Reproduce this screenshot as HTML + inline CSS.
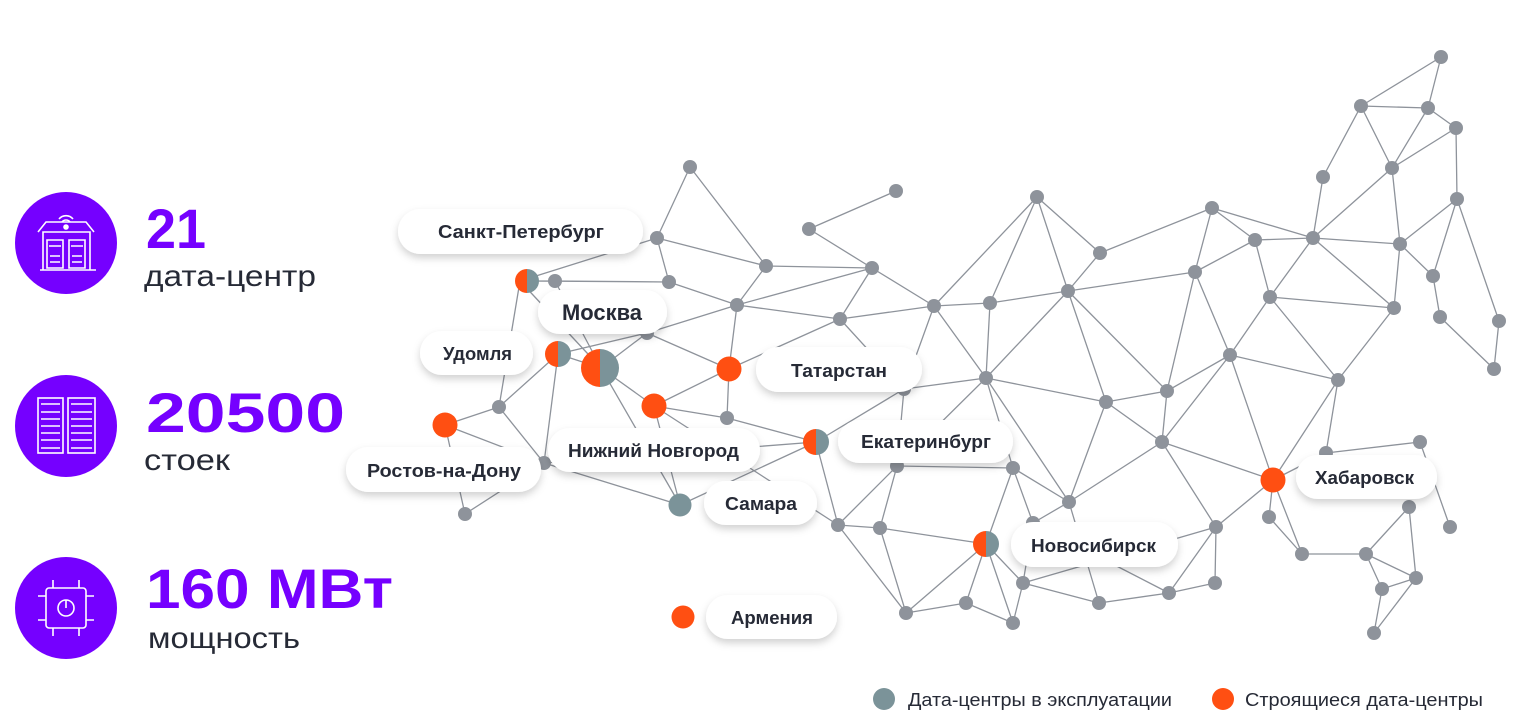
<!DOCTYPE html>
<html><head><meta charset="utf-8"><style>
html,body{margin:0;padding:0;background:#fff;width:1525px;height:728px;overflow:hidden;font-family:"Liberation Sans",sans-serif}
svg{position:absolute;left:0;top:0}
</style></head><body>
<svg width="1525" height="728" viewBox="0 0 1525 728" xmlns="http://www.w3.org/2000/svg">
<defs><filter id="sh" x="-20%" y="-40%" width="140%" height="190%"><feDropShadow dx="0" dy="4" stdDeviation="4" flood-color="#000" flood-opacity="0.18"/></filter></defs>
<g stroke="#8e939b" stroke-width="1.3" fill="none">
<path d="M690 167L657 238M690 167L766 266M896 191L809 229M809 229L872 268M657 238L766 266M657 238L669 282M657 238L520 281M766 266L872 268M766 266L737 305M669 282L737 305M872 268L737 305M872 268L840 319M872 268L934 306M737 305L840 319M737 305L647 333M737 305L729 369M840 319L934 306M840 319L729 369M840 319L904 389M669 282L555 281M520 281L555 281M520 281L669 282M520 281L499 407M520 281L601 368M555 281L601 368M647 333L601 368M647 333L558 354M647 333L729 369M558 354L499 407M558 354L601 368M558 354L544 463M601 368L654 406M601 368L680 505M729 369L654 406M729 369L727 418M654 406L727 418M654 406L680 505M654 406L838 525M727 418L816 442M499 407L445 425M499 407L544 463M445 425L544 463M445 425L465 514M544 463L465 514M544 463L680 505M816 442L544 463M816 442L680 505M816 442L838 525M816 442L904 389"/>
<path d="M904 389L934 306M904 389L986 378M904 389L897 466M934 306L990 303M934 306L986 378M934 306L1037 197M990 303L1068 291M990 303L986 378M990 303L1037 197M1068 291L1037 197M1068 291L1100 253M1037 197L1100 253M1100 253L1212 208M1068 291L986 378M1068 291L1106 402M1068 291L1167 391M1068 291L1195 272M986 378L1106 402M986 378L897 466M986 378L1013 468M986 378L1069 502M897 466L1013 468M897 466L838 525M897 466L880 528M1013 468L986 544M1013 468L1069 502M1013 468L1033 523M838 525L880 528M838 525L906 613M880 528L986 544M880 528L906 613M986 544L906 613M986 544L966 603M986 544L1023 583M986 544L1013 623M966 603L906 613M966 603L1013 623M1023 583L1013 623M1023 583L1099 603M1023 583L1033 523M1033 523L1069 502M1099 603L1169 593M1169 593L1215 583M1169 593L1033 523M1099 603L1069 502M1216 527L1215 583M1216 527L1169 593M1216 527L1273 480M1216 527L1023 583"/>
<path d="M1162 442L1069 502M1162 442L1216 527M1162 442L1273 480M1162 442L1167 391M1162 442L1106 402M1162 442L1230 355M1167 391L1106 402M1167 391L1230 355M1167 391L1195 272M1106 402L1069 502M1273 480L1338 380M1273 480L1230 355M1273 480L1269 517M1273 480L1302 554M1273 480L1326 453M1338 380L1326 453M1326 453L1420 442M1420 442L1450 527M1269 517L1302 554M1302 554L1366 554M1366 554L1409 507M1366 554L1416 578M1366 554L1382 589M1382 589L1416 578M1382 589L1374 633M1374 633L1416 578M1409 507L1416 578"/>
<path d="M1212 208L1195 272M1212 208L1255 240M1212 208L1313 238M1255 240L1313 238M1255 240L1270 297M1255 240L1195 272M1313 238L1323 177M1313 238L1392 168M1313 238L1400 244M1313 238L1270 297M1313 238L1394 308M1195 272L1230 355M1270 297L1230 355M1270 297L1394 308M1270 297L1338 380M1230 355L1338 380M1394 308L1338 380M1400 244L1392 168M1400 244L1457 199M1400 244L1433 276M1400 244L1394 308M1457 199L1456 128M1457 199L1433 276M1457 199L1499 321M1433 276L1440 317M1440 317L1494 369M1499 321L1494 369M1361 106L1323 177M1361 106L1392 168M1361 106L1428 108M1441 57L1361 106M1441 57L1428 108M1428 108L1392 168M1428 108L1456 128M1456 128L1392 168"/>
</g>
<g fill="#8e939b">
<circle cx="690" cy="167" r="7"/><circle cx="657" cy="238" r="7"/><circle cx="555" cy="281" r="7"/><circle cx="669" cy="282" r="7"/><circle cx="737" cy="305" r="7"/><circle cx="766" cy="266" r="7"/><circle cx="809" cy="229" r="7"/><circle cx="896" cy="191" r="7"/><circle cx="872" cy="268" r="7"/><circle cx="840" cy="319" r="7"/><circle cx="934" cy="306" r="7"/><circle cx="990" cy="303" r="7"/><circle cx="1068" cy="291" r="7"/><circle cx="1037" cy="197" r="7"/><circle cx="1100" cy="253" r="7"/><circle cx="647" cy="333" r="7"/><circle cx="727" cy="418" r="7"/><circle cx="499" cy="407" r="7"/><circle cx="544" cy="463" r="7"/><circle cx="465" cy="514" r="7"/><circle cx="904" cy="389" r="7"/><circle cx="986" cy="378" r="7"/><circle cx="897" cy="466" r="7"/><circle cx="1013" cy="468" r="7"/><circle cx="838" cy="525" r="7"/><circle cx="880" cy="528" r="7"/><circle cx="906" cy="613" r="7"/><circle cx="966" cy="603" r="7"/><circle cx="1013" cy="623" r="7"/><circle cx="1023" cy="583" r="7"/><circle cx="1033" cy="523" r="7"/><circle cx="1106" cy="402" r="7"/><circle cx="1069" cy="502" r="7"/><circle cx="1167" cy="391" r="7"/><circle cx="1162" cy="442" r="7"/><circle cx="1195" cy="272" r="7"/><circle cx="1212" cy="208" r="7"/><circle cx="1255" cy="240" r="7"/><circle cx="1313" cy="238" r="7"/><circle cx="1270" cy="297" r="7"/><circle cx="1230" cy="355" r="7"/><circle cx="1338" cy="380" r="7"/><circle cx="1323" cy="177" r="7"/><circle cx="1392" cy="168" r="7"/><circle cx="1361" cy="106" r="7"/><circle cx="1428" cy="108" r="7"/><circle cx="1441" cy="57" r="7"/><circle cx="1456" cy="128" r="7"/><circle cx="1457" cy="199" r="7"/><circle cx="1400" cy="244" r="7"/><circle cx="1433" cy="276" r="7"/><circle cx="1394" cy="308" r="7"/><circle cx="1440" cy="317" r="7"/><circle cx="1499" cy="321" r="7"/><circle cx="1494" cy="369" r="7"/><circle cx="1326" cy="453" r="7"/><circle cx="1420" cy="442" r="7"/><circle cx="1216" cy="527" r="7"/><circle cx="1269" cy="517" r="7"/><circle cx="1302" cy="554" r="7"/><circle cx="1366" cy="554" r="7"/><circle cx="1409" cy="507" r="7"/><circle cx="1450" cy="527" r="7"/><circle cx="1416" cy="578" r="7"/><circle cx="1382" cy="589" r="7"/><circle cx="1374" cy="633" r="7"/><circle cx="1215" cy="583" r="7"/><circle cx="1169" cy="593" r="7"/><circle cx="1099" cy="603" r="7"/>
</g>
<g fill="#fff" filter="url(#sh)">
<rect x="398" y="209" width="245" height="45" rx="22.5"/>
<rect x="538" y="290" width="129" height="44" rx="22"/>
<rect x="420" y="331" width="113" height="44" rx="22"/>
<rect x="756" y="347" width="166" height="45" rx="22.5"/>
<rect x="548" y="428" width="212" height="44" rx="22"/>
<rect x="346" y="447" width="195" height="45" rx="22.5"/>
<rect x="704" y="481" width="113" height="44" rx="22"/>
<rect x="706" y="595" width="131" height="44" rx="22"/>
<rect x="838" y="420" width="175" height="43" rx="21.5"/>
<rect x="1011" y="522" width="167" height="45" rx="22.5"/>
<rect x="1296" y="455" width="141" height="44" rx="22"/>
</g>
<g fill="#262a36" font-family="Liberation Sans, sans-serif" font-weight="bold" font-size="18" lengthAdjust="spacingAndGlyphs">
<text x="438" y="238" textLength="166" lengthAdjust="spacingAndGlyphs">Санкт-Петербург</text>
<text x="562" y="320" font-size="22" textLength="80" lengthAdjust="spacingAndGlyphs">Москва</text>
<text x="443" y="360" textLength="69" lengthAdjust="spacingAndGlyphs">Удомля</text>
<text x="791" y="377" textLength="96" lengthAdjust="spacingAndGlyphs">Татарстан</text>
<text x="568" y="457" textLength="171" lengthAdjust="spacingAndGlyphs">Нижний Новгород</text>
<text x="367" y="477" textLength="154" lengthAdjust="spacingAndGlyphs">Ростов-на-Дону</text>
<text x="725" y="510" textLength="72" lengthAdjust="spacingAndGlyphs">Самара</text>
<text x="731" y="624" textLength="82" lengthAdjust="spacingAndGlyphs">Армения</text>
<text x="861" y="448" textLength="130" lengthAdjust="spacingAndGlyphs">Екатеринбург</text>
<text x="1031" y="552" textLength="125" lengthAdjust="spacingAndGlyphs">Новосибирск</text>
<text x="1315" y="484" textLength="99" lengthAdjust="spacingAndGlyphs">Хабаровск</text>
</g>
<g>
<path d="M527 269A12 12 0 0 0 527 293Z" fill="#ff4f12"/><path d="M527 269A12 12 0 0 1 527 293Z" fill="#7b9399"/>
<path d="M558 341A12.5 12.5 0 0 0 558 367Z" fill="#ff4f12"/><path d="M558 341A12.5 12.5 0 0 1 558 367Z" fill="#7b9399"/>
<path d="M600 349A19 19 0 0 0 600 387Z" fill="#ff4f12"/><path d="M600 349A19 19 0 0 1 600 387Z" fill="#7b9399"/>
<path d="M816 429A13 13 0 0 0 816 455Z" fill="#ff4f12"/><path d="M816 429A13 13 0 0 1 816 455Z" fill="#7b9399"/>
<path d="M986 531A13 13 0 0 0 986 557Z" fill="#ff4f12"/><path d="M986 531A13 13 0 0 1 986 557Z" fill="#7b9399"/>
<circle cx="729" cy="369" r="12.5" fill="#ff4f12"/>
<circle cx="654" cy="406" r="12.5" fill="#ff4f12"/>
<circle cx="445" cy="425" r="12.5" fill="#ff4f12"/>
<circle cx="680" cy="505" r="11.5" fill="#7b9399"/>
<circle cx="683" cy="617" r="11.5" fill="#ff4f12"/>
<circle cx="1273" cy="480" r="12.5" fill="#ff4f12"/>
</g>
<circle cx="884" cy="699" r="11" fill="#7b9399"/>
<text x="908" y="706" font-size="18" fill="#262a36" font-family="Liberation Sans, sans-serif" textLength="264" lengthAdjust="spacingAndGlyphs">Дата-центры в эксплуатации</text>
<circle cx="1223" cy="699" r="11" fill="#ff4f12"/>
<text x="1245" y="706" font-size="18" fill="#262a36" font-family="Liberation Sans, sans-serif" textLength="238" lengthAdjust="spacingAndGlyphs">Строящиеся дата-центры</text>
<circle cx="66" cy="243" r="51" fill="#7500ff"/>
<circle cx="66" cy="426" r="51" fill="#7500ff"/>
<circle cx="66" cy="608" r="51" fill="#7500ff"/>
<g stroke="#fff" stroke-width="1.6" fill="none">
<path d="M40 270H96M43 270V232H90V270M38 232L46 222H86L94 232M47 240H63V268H47ZM69 240H85V268H69ZM49 246H61M71 246H83M50 256H60M72 256H82M50 262H60M72 262H82"/>
<path d="M59 219A9 9 0 0 1 73 219M62 222A5 5 0 0 1 70 222"/>
<circle cx="66" cy="227" r="2" fill="#fff"/>
<rect x="38" y="398" width="25" height="55"/><rect x="68" y="398" width="27" height="55"/>
<path d="M41 404H60M41 412H60M41 419H60M41 426H60M41 433H60M41 440H60M41 448H60M71 404H92M71 412H92M71 419H92M71 426H92M71 433H92M71 440H92M71 448H92"/>
<rect x="46" y="588" width="40" height="40" rx="3"/>
<circle cx="66" cy="608" r="8"/><path d="M66 600V608"/>
<path d="M53 588V580M79 588V580M46 596H38M46 620H38M86 596H94M86 620H94M53 628V636M79 628V636"/>
</g>
<g fill="#7500ff" font-family="Liberation Sans, sans-serif" font-weight="bold">
<text x="146" y="248" font-size="56" textLength="60" lengthAdjust="spacingAndGlyphs">21</text>
<text x="146" y="432" font-size="56" textLength="199" lengthAdjust="spacingAndGlyphs">20500</text>
<text x="146" y="608" font-size="56" textLength="247" lengthAdjust="spacingAndGlyphs">160 МВт</text>
</g>
<g fill="#262a36" font-family="Liberation Sans, sans-serif" font-size="30">
<text x="144" y="286" textLength="172" lengthAdjust="spacingAndGlyphs">дата-центр</text>
<text x="144" y="470" textLength="86" lengthAdjust="spacingAndGlyphs">стоек</text>
<text x="148" y="648" textLength="152" lengthAdjust="spacingAndGlyphs">мощность</text>
</g>
</svg>
</body></html>
